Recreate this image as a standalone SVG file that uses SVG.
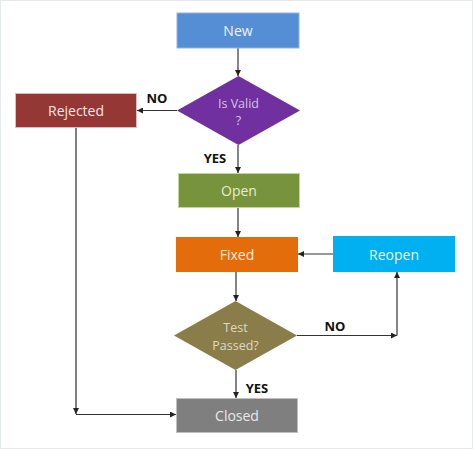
<svg xmlns="http://www.w3.org/2000/svg" width="474" height="450" viewBox="0 0 474 450">
<style>
.lbl{font-family:"Open Sans","Noto Sans","Liberation Sans",sans-serif;font-size:14px;text-anchor:middle;dominant-baseline:central}
.small{font-size:12.5px}
.edge{font-family:"Open Sans","Liberation Sans",sans-serif;font-size:13px;font-weight:bold;fill:#111}
.c{stroke:#333;stroke-width:1.2;fill:none}
.cg{stroke:#808080;stroke-width:2;fill:none}
</style>
<defs>
<marker id="ah" viewBox="0 0 10 10" refX="10" refY="5" markerWidth="6" markerHeight="6" orient="auto" markerUnits="userSpaceOnUse">
<path d="M0,0 L10,5 L0,10 z" fill="#222"/>
</marker>
</defs>
<rect x="0.5" y="0.5" width="472" height="448" fill="#ffffff" stroke="#e4eaef"/>
<g id="connectors">
<line class="c" x1="238" y1="48" x2="238" y2="76" marker-end="url(#ah)"/>
<line class="c" x1="177" y1="110.5" x2="137" y2="110.5" marker-end="url(#ah)"/>
<line class="c" x1="238" y1="145" x2="238" y2="173" marker-end="url(#ah)"/>
<line class="c" x1="238" y1="207" x2="238" y2="237" marker-end="url(#ah)"/>
<line class="c" x1="333" y1="254" x2="298" y2="254" marker-end="url(#ah)"/>
<line class="c" x1="236" y1="272" x2="236" y2="301" marker-end="url(#ah)"/>
<line class="c" x1="297" y1="335.5" x2="397" y2="335.5" marker-end="url(#ah)"/>
<line class="c" x1="397" y1="335.5" x2="397" y2="272" marker-end="url(#ah)"/>
<line class="c" x1="236" y1="370" x2="236" y2="398" marker-end="url(#ah)"/>
<line class="cg" x1="76" y1="127" x2="76" y2="414" marker-end="url(#ah)"/>
<line class="c" x1="76" y1="414.5" x2="176" y2="414.5" marker-end="url(#ah)"/>
<text class="edge" x="157" y="103" text-anchor="middle">NO</text>
<text class="edge" x="215" y="163" text-anchor="middle">YES</text>
<text class="edge" x="335" y="331" text-anchor="middle">NO</text>
<text class="edge" x="257" y="393" text-anchor="middle">YES</text>
</g>
<g id="new">
<rect x="177" y="13" width="122" height="35" fill="#558ED5" stroke="#8fb4e3" stroke-width="1"/>
<text class="lbl" x="238" y="30.5" fill="#eef3fb">New</text>
</g>
<g id="isvalid">
<polygon points="238.5,76 300,110.5 238.5,145 177,110.5" fill="#7030A0"/>
<text class="lbl small" x="238.5" y="103" fill="#d3c3e6">Is Valid</text>
<text class="lbl small" x="238.5" y="120" fill="#d3c3e6">?</text>
</g>
<g id="rejected">
<rect x="15.5" y="93.5" width="121" height="34" fill="#953735" stroke="#e6b9b8" stroke-width="1"/>
<text class="lbl" x="76" y="110.5" fill="#f5e6e6">Rejected</text>
</g>
<g id="open">
<rect x="178.5" y="173.5" width="121" height="34" fill="#77933C" stroke="#c3d69b" stroke-width="1"/>
<text class="lbl" x="239" y="190.5" fill="#e4edd2">Open</text>
</g>
<g id="fixed">
<rect x="176" y="237" width="122" height="35" fill="#E46C0A"/>
<text class="lbl" x="237" y="254.5" fill="#fde9d9">Fixed</text>
</g>
<g id="reopen">
<rect x="333" y="236" width="122" height="36" fill="#00B0F0"/>
<text class="lbl" x="394" y="254" fill="#e6f7fd">Reopen</text>
</g>
<g id="testpassed">
<polygon points="235.5,301 297,335.5 235.5,370 174,335.5" fill="#8B7D4A"/>
<text class="lbl small" x="235.5" y="327" fill="#ddd9c3">Test</text>
<text class="lbl small" x="235.5" y="345" fill="#ddd9c3">Passed?</text>
</g>
<g id="closed">
<rect x="176.5" y="398.5" width="121" height="34" fill="#7F7F7F" stroke="#bfbfbf" stroke-width="1"/>
<text class="lbl" x="237" y="415.5" fill="#e8e8e8">Closed</text>
</g>
</svg>
